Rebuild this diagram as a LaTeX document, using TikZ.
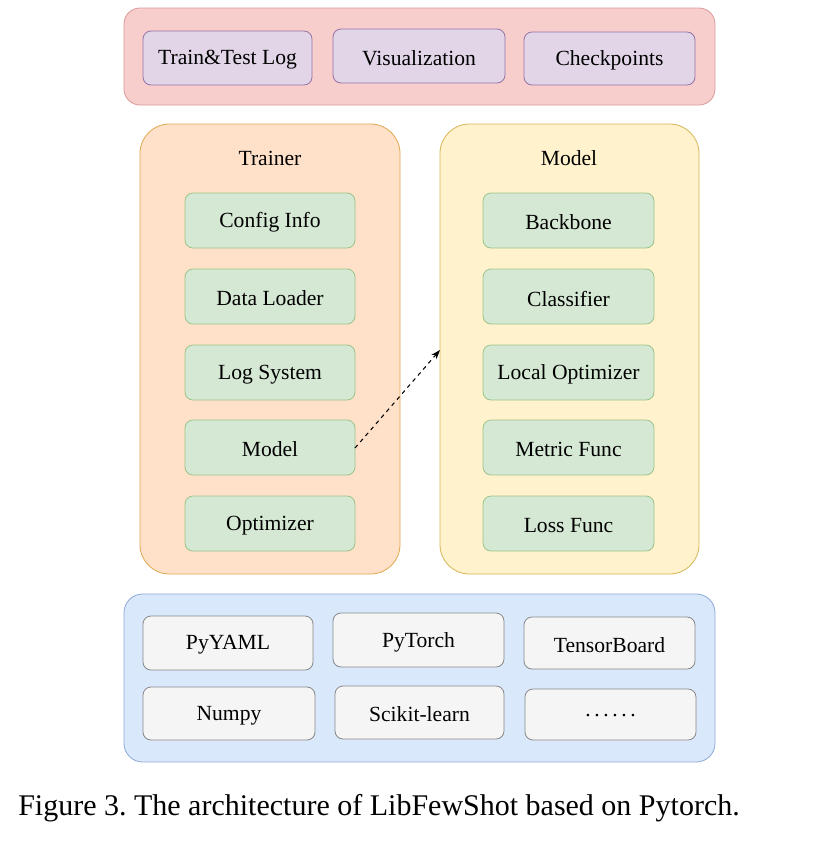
\documentclass[tikz,border=0pt]{standalone}
\usepackage{fontspec}
\setmainfont{Liberation Serif}
\usetikzlibrary{arrows.meta}
\definecolor{pinkF}{HTML}{F8CECC}\definecolor{pinkD}{HTML}{D99A98}
\definecolor{lavF}{HTML}{E1D5E7}\definecolor{lavD}{HTML}{9673A6}
\definecolor{orF}{HTML}{FFE0C8}\definecolor{orD}{HTML}{E0A850}
\definecolor{yeF}{HTML}{FFF2CC}\definecolor{yeD}{HTML}{D6B656}
\definecolor{grF}{HTML}{D5E8D4}\definecolor{grD}{HTML}{9CC48A}
\definecolor{blF}{HTML}{DAE8FC}\definecolor{blD}{HTML}{8EA8D6}
\definecolor{gyF}{HTML}{F5F5F5}\definecolor{gyD}{HTML}{888888}
\tikzset{
 px/.style={x=0.75pt,y=-0.75pt},
 box/.style={rounded corners=6pt,line width=0.6pt},
 lbl/.style={font=\fontsize{16.2}{19}\selectfont},
}
\newcommand{\bx}[6]{\draw[box,fill=#5,draw=#6] (#1) rectangle (#2); \path (#1) -- node[lbl,yshift=-1.5pt] (#3) {#4} (#2);}
\begin{document}
\frenchspacing
\begin{tikzpicture}[px]
\useasboundingbox (0,0) rectangle (818,850);
\draw[line width=0.6pt,rounded corners=12pt,fill=pinkF,draw=pinkD] (124,8) rectangle (715,105);
\draw[line width=0.6pt,rounded corners=22pt,fill=orF,draw=orD] (140,124) rectangle (400,574);
\draw[line width=0.6pt,rounded corners=22pt,fill=yeF,draw=yeD] (440,124) rectangle (699,574);
\draw[line width=0.6pt,rounded corners=14pt,fill=blF,draw=blD] (124,594) rectangle (715,762);
\node[lbl] (trainer) at (270,158) {Trainer};
\node[lbl] (modelt) at (569,158) {Model};
\bx{143,31}{312,85}{a1}{Train\&Test Log}{lavF}{lavD}
\bx{333,29}{505,83}{a2}{Visualization}{lavF}{lavD}
\bx{524,32}{695,85}{a3}{Checkpoints}{lavF}{lavD}
\bx{185,193}{355,248}{t1}{Config Info}{grF}{grD}
\bx{185,269}{355,324}{t2}{Data Loader}{grF}{grD}
\bx{185,345}{355,400}{t3}{Log System}{grF}{grD}
\bx{185,420}{355,475}{t4}{Model}{grF}{grD}
\bx{185,496}{355,551}{t5}{Optimizer}{grF}{grD}
\bx{483,193}{654,248}{m1}{Backbone}{grF}{grD}
\bx{483,269}{654,324}{m2}{Classifier}{grF}{grD}
\bx{483,345}{654,400}{m3}{Local Optimizer}{grF}{grD}
\bx{483,420}{654,475}{m4}{Metric Func}{grF}{grD}
\bx{483,496}{654,551}{m5}{Loss Func}{grF}{grD}
\bx{143,616}{313,670}{b1}{PyYAML}{gyF}{gyD}
\bx{333,613}{504,667}{b2}{PyTorch}{gyF}{gyD}
\bx{524,617}{695,669}{b3}{TensorBoard}{gyF}{gyD}
\bx{143,687}{315,740}{b4}{Numpy}{gyF}{gyD}
\bx{335,686}{504,739}{b5}{Scikit-learn}{gyF}{gyD}
\bx{525,689}{696,740}{b6}{\raisebox{0.2ex}{.\,.\,.\,.\,.\,.}}{gyF}{gyD}
\coordinate (s) at (355,448);
\coordinate (e) at (440,350);
\draw[dashed,line width=0.8pt,-{Stealth[length=7pt,width=5pt]}] (s) -- (e);
\node[font=\fontsize{22.5}{26}\selectfont,anchor=west,inner sep=0pt] (cap) at (18,808) {Figure 3. The architecture of LibFewShot based on Pytorch.};
\end{tikzpicture}
\end{document}
